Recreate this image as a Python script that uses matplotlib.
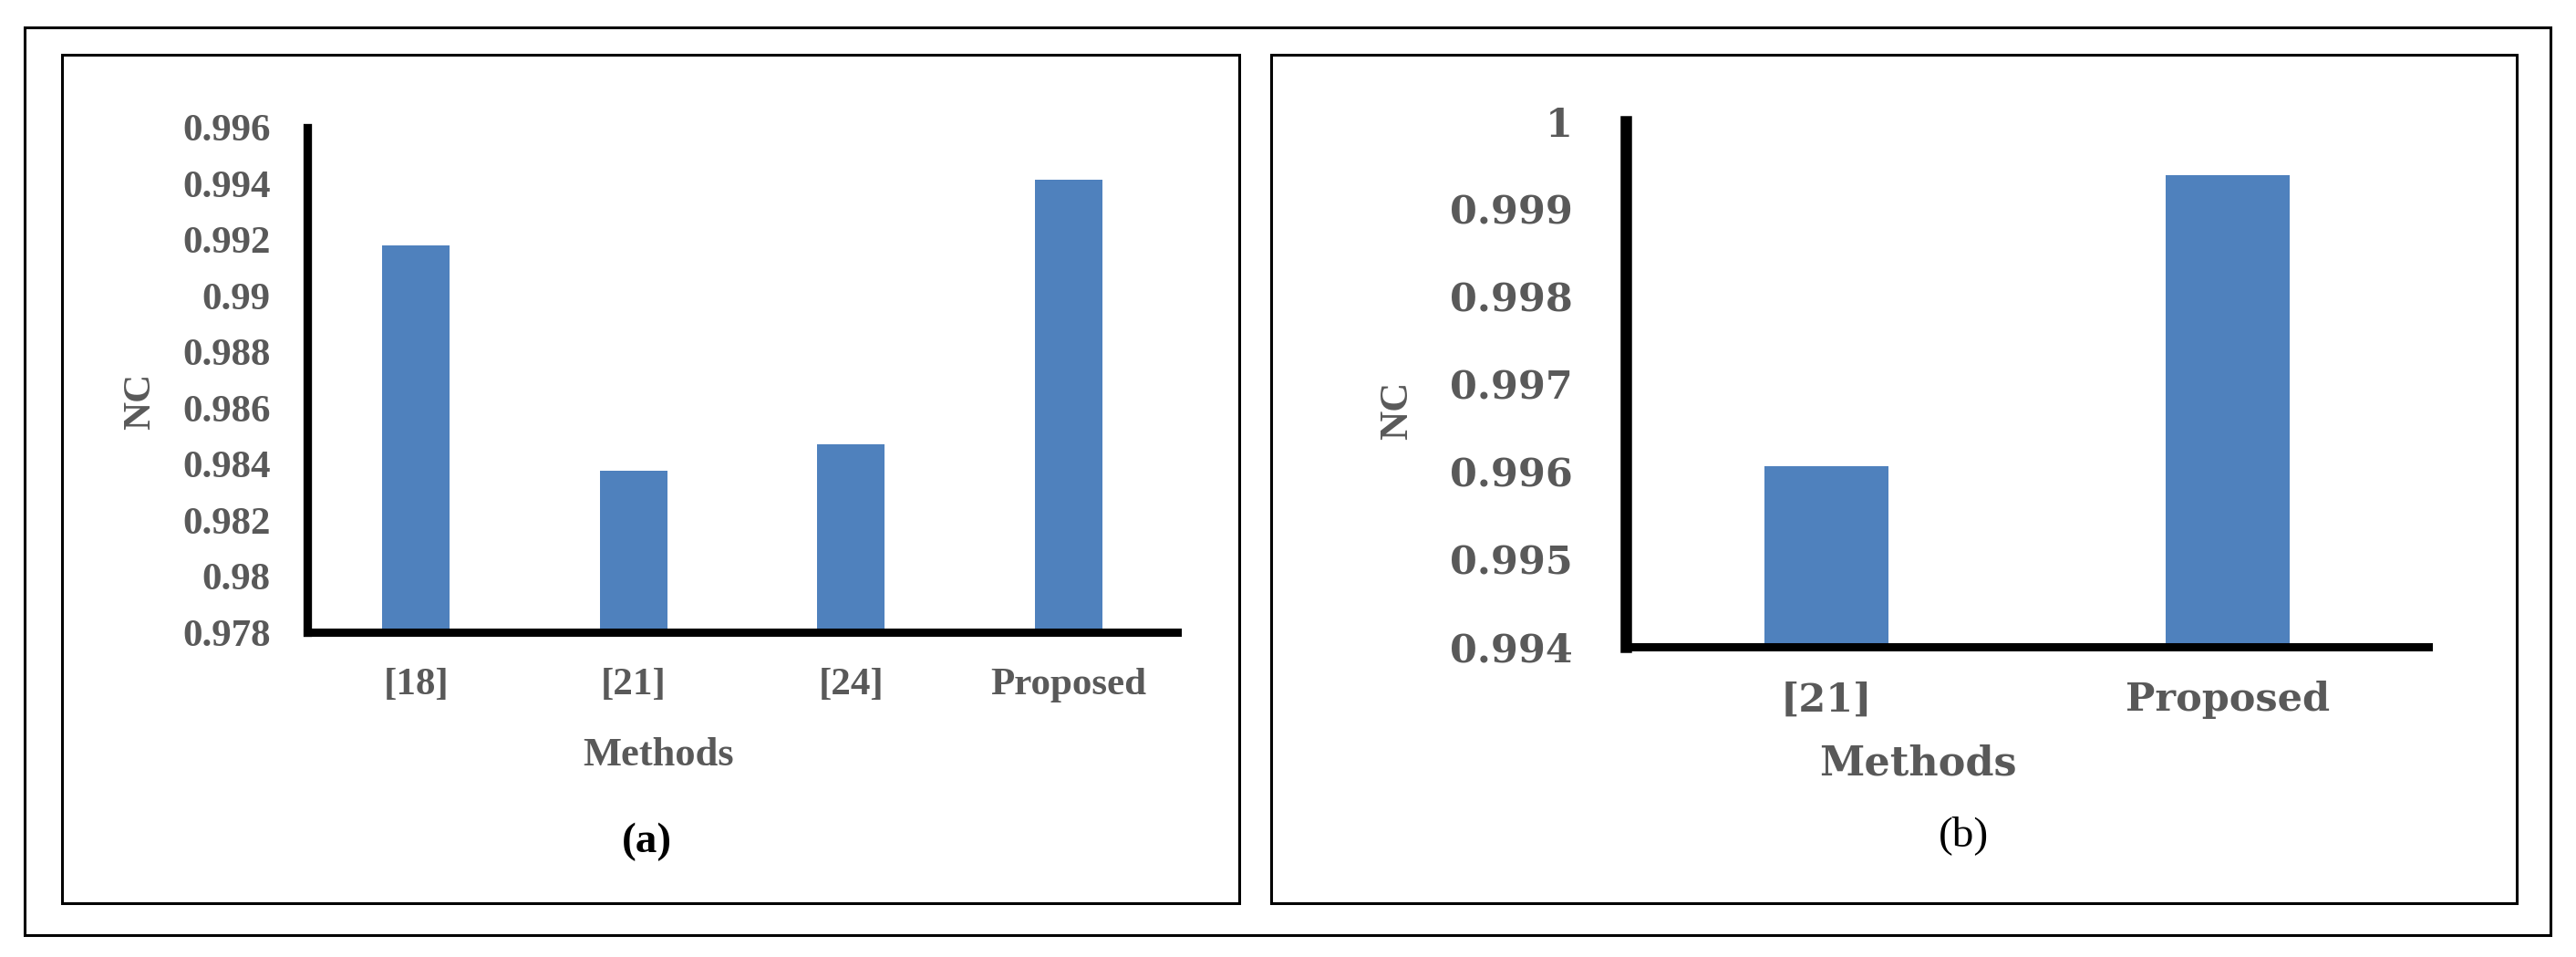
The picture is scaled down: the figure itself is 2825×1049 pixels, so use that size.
import matplotlib.pyplot as plt
from matplotlib.patches import Rectangle

# Data
methods_a = ['[18]', '[21]', '[24]', 'Proposed']
nc_a = [0.9918, 0.98376, 0.9847, 0.99414]
ticks_a = [0.978, 0.98, 0.982, 0.984, 0.986, 0.988, 0.99, 0.992, 0.994, 0.996]
tick_labels_a = ['0.978', '0.98', '0.982', '0.984', '0.986', '0.988', '0.99', '0.992', '0.994', '0.996']

methods_b = ['[21]', 'Proposed']
nc_b = [0.99606, 0.99939]
ticks_b = [0.994, 0.995, 0.996, 0.997, 0.998, 0.999, 1.0]
tick_labels_b = ['0.994', '0.995', '0.996', '0.997', '0.998', '0.999', '1']

W, H = 2825, 1049
bar_color = '#4f81bd'
gray = '#595959'

fig = plt.figure(figsize=(W / 100, H / 100), dpi=100)


def px_box(x0, y0, x1, y1):
    # pixel box (top-left origin) -> figure fraction rect
    return [x0 / W, 1 - y1 / H, (x1 - x0) / W, (y1 - y0) / H]


# frames
for (x0, y0, x1, y1) in [(27, 30, 2797, 1025), (68, 60, 1359, 990), (1394, 60, 2760, 990)]:
    l, b, w, h = px_box(x0, y0, x1, y1)
    fig.patches.append(Rectangle((l, b), w, h, transform=fig.transFigure,
                                 fill=False, edgecolor='black', linewidth=2.2))


def style_axes(ax, lw_left, lw_bottom):
    for s in ['top', 'right']:
        ax.spines[s].set_visible(False)
    ax.spines['left'].set_linewidth(lw_left)
    ax.spines['bottom'].set_linewidth(lw_bottom)
    for s in ['left', 'bottom']:
        ax.spines[s].set_color('black')
        ax.spines[s].set_capstyle('projecting')
    ax.tick_params(length=0)


# ---- panel (a)
ax1 = fig.add_axes(px_box(337, 140, 1291, 693))
ax1.bar(range(len(methods_a)), nc_a, width=0.31, color=bar_color)
ax1.set_xlim(-0.5, len(methods_a) - 0.5)
ax1.set_ylim(ticks_a[0], ticks_a[-1])
ax1.set_yticks(ticks_a)
ax1.set_yticklabels(tick_labels_a)
ax1.set_xticks(range(len(methods_a)))
ax1.set_xticklabels(methods_a)
style_axes(ax1, 6.7, 6.5)
ax1.tick_params(axis='y', pad=29)
ax1.tick_params(axis='x', pad=28)
for lab in ax1.get_xticklabels() + ax1.get_yticklabels():
    lab.set_fontfamily('Liberation Serif')
    lab.set_fontweight('bold')
    lab.set_fontsize(31)
    lab.set_color(gray)
ax1.text(-0.192, 0.457, 'NC', transform=ax1.transAxes, rotation=90, ha='center', va='center',
         fontfamily='Liberation Serif', fontweight='bold', fontsize=31, color=gray)
ax1.text(0.404, -0.244, 'Methods', transform=ax1.transAxes, ha='center', va='center',
         fontfamily='Liberation Serif', fontweight='bold', fontsize=32, color=gray)

# ---- panel (b)
ax2 = fig.add_axes(px_box(1783, 133, 2663, 709))
ax2.bar(range(len(methods_b)), nc_b, width=0.31, color=bar_color)
ax2.set_xlim(-0.5, len(methods_b) - 0.5)
ax2.set_ylim(ticks_b[0], ticks_b[-1])
ax2.set_yticks(ticks_b)
ax2.set_yticklabels(tick_labels_b)
ax2.set_xticks(range(len(methods_b)))
ax2.set_xticklabels(methods_b)
style_axes(ax2, 9, 6.5)
ax2.tick_params(axis='y', pad=42)
ax2.tick_params(axis='x', pad=27)
for lab in ax2.get_xticklabels() + ax2.get_yticklabels():
    lab.set_fontfamily('DejaVu Serif')
    lab.set_fontweight('bold')
    lab.set_fontsize(31)
    lab.set_color(gray)
ax2.text(-0.285, 0.45, 'NC', transform=ax2.transAxes, rotation=90, ha='center', va='center',
         fontfamily='Liberation Serif', fontweight='bold', fontsize=32, color=gray)
ax2.text(0.364, -0.222, 'Methods', transform=ax2.transAxes, ha='center', va='center',
         fontfamily='DejaVu Serif', fontweight='bold', fontsize=32, color=gray)

# captions
fig.text(709 / W, 1 - 923 / H, '(a)', ha='center', va='center',
         fontfamily='Liberation Serif', fontweight='bold', fontsize=34, color='black')
fig.text(2154 / W, 1 - 916 / H, '(b)', ha='center', va='center',
         fontfamily='Liberation Serif', fontsize=34, color='black')

fig.savefig('out.png', dpi=100, facecolor='white')
